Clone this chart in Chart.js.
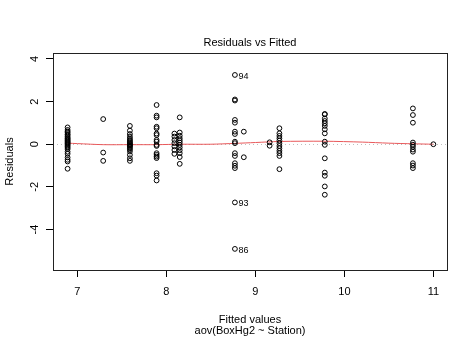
<!DOCTYPE html>
<html>
<head>
<meta charset="utf-8">
<script src="https://cdn.jsdelivr.net/npm/chart.js@4/dist/chart.umd.min.js"></script>
<style>
  html, body { margin: 0; padding: 0; background: #fff; }
  #wrap { width: 474px; height: 338px; }
</style>
</head>
<body>
<div id="wrap"><canvas id="resid"></canvas></div>
<script>
// fitted value of each station group
const fittedLevels = [6.89, 7.29, 7.59, 7.89, 8.09, 8.15, 8.77, 8.87, 9.16, 9.27, 9.78, 10.77, 11.0];

// residuals, one list per fitted level
const residuals = [
    [0.79, 0.67, 0.6, 0.54, 0.47, 0.43, 0.36, 0.3, 0.26, 0.21, 0.17, 0.12, 0.09, 0.04, 0, -0.05, -0.11, -0.17, -0.23, -0.35, -0.45, -0.62, -0.73, -0.81, -1.15],
    [1.18, -0.39, -0.78],
    [0.86, 0.64, 0.48, 0.36, 0.27, 0.2, 0.14, 0.09, 0.03, 0, -0.04, -0.08, -0.12, -0.19, -0.25, -0.34, -0.5, -0.66, -0.78],
    [1.84, 1.34, 1.26, 0.82, 0.75, 0.5, 0.43, 0.2, 0.12, -0.03, -0.08, -0.42, -0.5, -0.58, -0.65, -1.36, -1.47, -1.7],
    [0.5, 0.36, 0.2, 0.05, -0.1, -0.27, -0.45],
    [1.26, 0.55, 0.4, 0.28, 0.18, 0.08, -0.03, -0.15, -0.28, -0.42, -0.6, -0.92],
    [3.25, 2.1, 2.05, 1.14, 1.01, 0.59, 0.48, 0.12, 0.05, -0.42, -0.55, -0.89, -1.01, -1.12, -2.73, -4.91],
    [0.59, -0.61],
    [0.09, -0.07],
    [0.75, 0.51, 0.39, 0.28, 0.17, 0.05, -0.08, -0.19, -0.31, -0.42, -0.55, -1.17],
    [1.42, 1.4, 1.21, 1.09, 0.98, 0.86, 0.7, 0.51, 0.12, -0.03, -0.66, -1.33, -1.48, -1.98, -2.37],
    [1.68, 1.37, 1.01, 0.08, -0.02, -0.12, -0.25, -0.35, -0.89, -1.0, -1.12],
    [0.0]
];

// lowess smoother
const smoothX = [6.89, 7.0, 7.29, 7.59, 7.89, 8.15, 8.5, 8.77, 9.0, 9.27, 9.78, 10.2, 10.5, 10.77, 11.0];
const smoothY = [0.05, 0.03, -0.02, -0.02, -0.02, 0.0, 0.0, 0.04, 0.08, 0.13, 0.14, 0.1, 0.05, 0.02, 0.0];

// labelled observations
const idLabels = ['94', '93', '86'];
const idResiduals = [3.25, -2.73, -4.91];

const xTicks = { min: 6.726, max: 11.153, step: 1 };
const yTicks = { min: -5.9, max: 4.28, step: 2 };

const FONT = "'Liberation Sans', Arial, sans-serif";
Chart.defaults.font.family = FONT;
Chart.defaults.color = '#000';

const points = [];
fittedLevels.forEach((fx, i) => {
    residuals[i].forEach(r => points.push({ x: fx, y: r }));
});
const smoothLine = smoothX.map((x, i) => ({ x: x, y: smoothY[i] }));

// box, dotted zero line and id labels
const framePlugin = {
    id: 'frame',
    beforeDatasetsDraw(chart) {
        const { ctx, chartArea: a, scales: { y } } = chart;
        const y0 = Math.round(y.getPixelForValue(0)) + 0.5;
        ctx.save();
        ctx.strokeStyle = '#bebebe';
        ctx.lineWidth = 1;
        ctx.setLineDash([1, 3]);
        ctx.beginPath();
        ctx.moveTo(a.left, y0);
        ctx.lineTo(a.right, y0);
        ctx.stroke();
        ctx.restore();
    },
    afterDraw(chart) {
        const { ctx, chartArea: a } = chart;
        ctx.save();
        ctx.strokeStyle = '#222';
        ctx.lineWidth = 1;
        ctx.strokeRect(Math.round(a.left) + 0.5, Math.round(a.top) + 0.5,
            Math.round(a.right - a.left), Math.round(a.bottom - a.top));

        const meta = chart.getDatasetMeta(0);
        ctx.font = '9px ' + FONT;
        ctx.fillStyle = '#000';
        ctx.textAlign = 'left';
        ctx.textBaseline = 'middle';
        idLabels.forEach((lab, k) => {
            const idx = points.findIndex(p => p.y === idResiduals[k]);
            if (idx < 0) return;
            const el = meta.data[idx];
            ctx.fillText(lab, el.x + 3.5, el.y + 1.5);
        });
        ctx.restore();
    }
};

new Chart(document.getElementById('resid'), {
    type: 'scatter',
    data: {
        datasets: [{
            data: points,
            pointStyle: 'circle',
            pointRadius: 2.4,
            pointBorderWidth: 1,
            pointBorderColor: '#000',
            pointBackgroundColor: 'rgba(0,0,0,0)'
        }, {
            type: 'line',
            data: smoothLine,
            borderColor: '#e8585a',
            borderWidth: 1,
            pointRadius: 0,
            tension: 0.3,
            fill: false
        }]
    },
    plugins: [framePlugin],
    options: {
        responsive: true,
        maintainAspectRatio: false,
        animation: false,
        layout: { padding: { top: 0, right: 27, bottom: 0, left: 0 } },
        plugins: {
            legend: { display: false },
            tooltip: { enabled: false },
            title: {
                display: true,
                text: 'Residuals vs Fitted',
                fullSize: false,
                color: '#000',
                font: { size: 11, weight: 'normal', lineHeight: 1.2 },
                padding: { top: 36.4, bottom: 3.4 }
            }
        },
        scales: {
            x: {
                type: 'linear',
                position: 'bottom',
                min: xTicks.min,
                max: xTicks.max,
                afterFit(scale) { scale.height = 68; },
                border: { display: false },
                grid: { drawOnChartArea: false, drawTicks: true, tickLength: 7, color: '#000' },
                ticks: { stepSize: xTicks.step, includeBounds: false, padding: 8, font: { size: 11 }, color: '#000' },
                title: {
                    display: true,
                    text: ['Fitted values', 'aov(BoxHg2 ~ Station)'],
                    font: { size: 11, lineHeight: 1 },
                    padding: { top: 0, bottom: 1.5 },
                    color: '#000'
                }
            },
            y: {
                type: 'linear',
                min: yTicks.min,
                max: yTicks.max,
                afterFit(scale) { scale.width = 53; },
                border: { display: false },
                grid: { drawOnChartArea: false, drawTicks: true, tickLength: 7, color: '#000' },
                ticks: {
                    stepSize: yTicks.step, includeBounds: false,
                    minRotation: 90, maxRotation: 90, crossAlign: 'center',
                    padding: 6, font: { size: 11 }, color: '#000'
                },
                title: {
                    display: true,
                    text: 'Residuals',
                    font: { size: 11, lineHeight: 1 },
                    padding: { top: 4.5, bottom: 0 },
                    color: '#000'
                }
            }
        }
    }
});
</script>
</body>
</html>
